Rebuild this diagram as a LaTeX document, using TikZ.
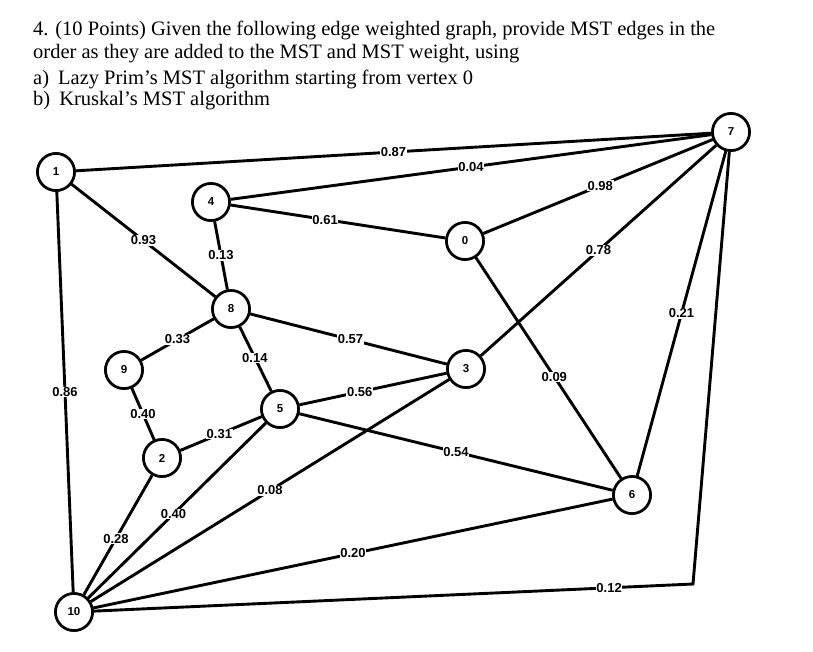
\documentclass[tikz,border=0pt]{standalone}
\usepackage{fontspec}
\setmainfont{Liberation Serif}
\newfontfamily\arialf{Liberation Sans}
\begin{document}
\begin{tikzpicture}[x=1pt,y=-1pt,
  vtx/.style={circle,draw,line width=2.6pt,minimum size=37pt,inner sep=0pt,fill=white,font=\arialf\bfseries\fontsize{11.5}{11.5}\selectfont},
  edge/.style={line width=2.9pt},
  wt/.style={fill=white,inner sep=0.6pt,font=\arialf\bfseries\fontsize{13}{13}\selectfont},
  ttl/.style={anchor=west,inner sep=0pt,font=\fontsize{20.5}{20.5}\selectfont}]
\useasboundingbox (0,0) rectangle (813,651);
\node[ttl] (t1) at (33,30) {4. (10 Points) Given the following edge weighted graph, provide MST edges in the};
\node[ttl] (t2) at (33,54) {order as they are added to the MST and MST weight, using};
\node[ttl] (t3) at (33,79) {a)\hspace{9pt}Lazy Prim’s MST algorithm starting from vertex 0};
\node[ttl] (t4) at (33,101) {b)\hspace{9pt}Kruskal’s MST algorithm};
\node[vtx] (n1) at (56,172) {1};
\node[vtx] (n4) at (211,202) {4};
\node[vtx] (n0) at (465,241) {0};
\node[vtx] (n8) at (231,309) {8};
\node[vtx] (n9) at (124,370) {9};
\node[vtx] (n3) at (466,369) {3};
\node[vtx] (n5) at (280,409) {5};
\node[vtx] (n2) at (162,458) {2};
\node[vtx] (n6) at (632,495) {6};
\node[vtx] (n7) at (731,132) {7};
\node[vtx] (n10) at (74,612) {10};
\coordinate (c) at (693,584);
\draw[edge] (n1) -- node[wt,pos=0.5]{0.87} (n7);
\draw[edge] (n4) -- node[wt,pos=0.5]{0.04} (n7);
\draw[edge] (n1) -- node[wt,pos=0.5]{0.86} (n10);
\draw[edge] (n1) -- node[wt,pos=0.5]{0.93} (n8);
\draw[edge] (n4) -- node[wt,pos=0.44]{0.61} (n0);
\draw[edge] (n4) -- node[wt,pos=0.5]{0.13} (n8);
\draw[edge] (n0) -- node[wt,pos=0.51]{0.98} (n7);
\draw[edge] (n0) -- node[wt,pos=0.54]{0.09} (n6);
\draw[edge] (n8) -- node[wt,pos=0.51]{0.57} (n3);
\draw[edge] (n8) -- node[wt,pos=0.48]{0.14} (n5);
\draw[edge] (n9) -- node[wt,pos=0.5]{0.33} (n8);
\draw[edge] (n9) -- node[wt,pos=0.5]{0.40} (n2);
\draw[edge] (n2) -- node[wt,pos=0.48]{0.31} (n5);
\draw[edge] (n2) -- node[wt,pos=0.53]{0.28} (n10);
\draw[edge] (n5) -- node[wt,pos=0.52]{0.40} (n10);
\draw[edge] (n3) -- node[wt,pos=0.5]{0.08} (n10);
\draw[edge] (n6) -- node[wt,pos=0.5]{0.20} (n10);
\draw[edge] (n5) -- node[wt,pos=0.41]{0.56} (n3);
\draw[edge] (n5) -- node[wt,pos=0.5]{0.54} (n6);
\draw[edge] (n3) -- node[wt,pos=0.5]{0.78} (n7);
\draw[edge] (n6) -- node[wt,pos=0.5]{0.21} (n7);
\draw[edge] (n7) -- (c) -- node[wt,pos=0.14]{0.12} (n10);
\node[vtx] at (n1) {1};\node[vtx] at (n4) {4};\node[vtx] at (n0) {0};\node[vtx] at (n8) {8};
\node[vtx] at (n9) {9};\node[vtx] at (n3) {3};\node[vtx] at (n5) {5};\node[vtx] at (n2) {2};
\node[vtx] at (n6) {6};\node[vtx] at (n7) {7};\node[vtx] at (n10) {10};
\end{tikzpicture}
\end{document}
